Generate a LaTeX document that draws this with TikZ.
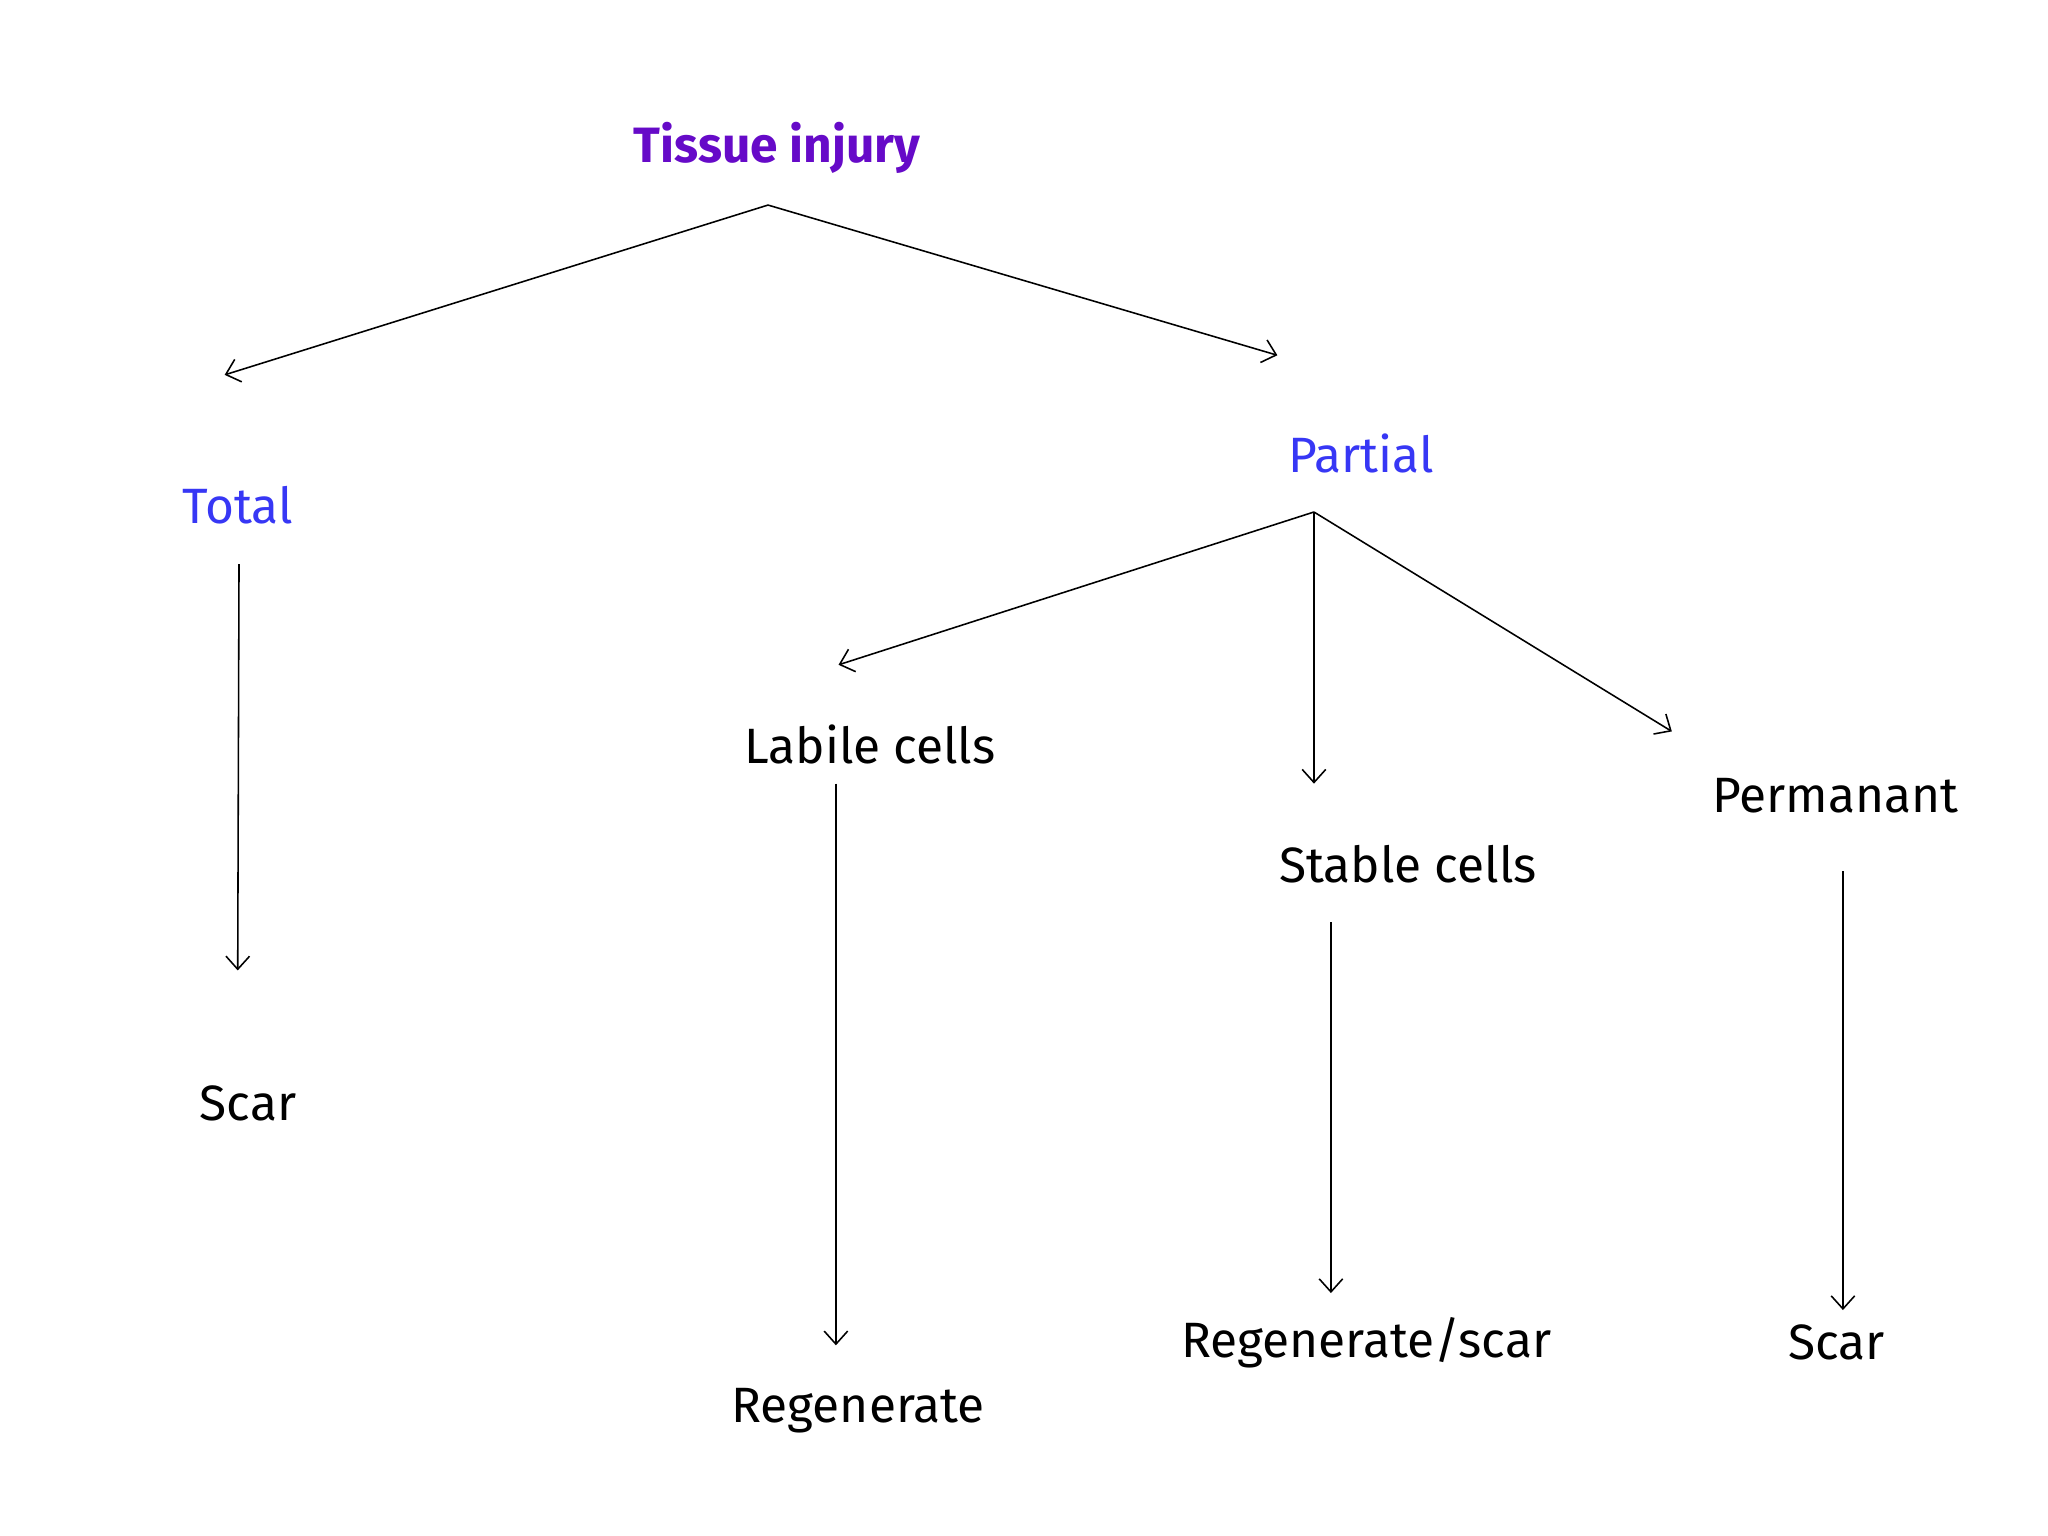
\documentclass[tikz,border=0pt]{standalone}
\usepackage{fontspec}
\setmainfont{Fira Sans}
\usetikzlibrary{arrows.meta}
\definecolor{purp}{RGB}{102,10,200}
\definecolor{blu}{RGB}{55,55,245}
\begin{document}
\begin{tikzpicture}[x=0.5pt,y=-0.5pt,
 lbl/.style={font=\fontsize{19}{22}\selectfont},
 arr/.style={-{Straight Barb[length=5pt,width=9pt]},line width=0.6pt}]
\useasboundingbox (0,0) rectangle (1568,1176);
\fill[white] (0,0) rectangle (1568,1176);
\node[lbl,text=purp,font=\bfseries\fontsize{19}{22}\selectfont] (ti) at (595,113) {Tissue injury};
\node[lbl,text=blu] (tot) at (182,387) {Total};
\node[lbl,text=blu] (par) at (1042,347) {Partial};
\node[lbl] (sc1) at (190,845) {Scar};
\node[lbl] (lab) at (666,570) {Labile cells};
\node[lbl] (sta) at (1078,662) {Stable cells};
\node[lbl] (per) at (1405,609) {Permanant};
\node[lbl] (reg) at (657,1080) {Regenerate};
\node[lbl] (rs) at (1046,1028) {Regenerate/scar};
\node[lbl] (sc2) at (1406,1028) {Scar};
\coordinate (a0) at (588,157); \coordinate (a1) at (172,287); \coordinate (a2) at (978,272);
\coordinate (p0) at (1006,392); \coordinate (p1) at (642,509); \coordinate (p2) at (1006,600); \coordinate (p3) at (1280,560);
\coordinate (t0) at (183,432); \coordinate (t1) at (182,743);
\coordinate (l0) at (640,600); \coordinate (l1) at (640,1030);
\coordinate (s0) at (1019,706); \coordinate (s1) at (1019,990);
\coordinate (m0) at (1411,667); \coordinate (m1) at (1411,1003);
\draw[arr] (a0) -- (a1); \draw[arr] (a0) -- (a2);
\draw[arr] (p0) -- (p1); \draw[arr] (p0) -- (p2); \draw[arr] (p0) -- (p3);
\draw[arr] (t0) -- (t1); \draw[arr] (l0) -- (l1);
\draw[arr] (s0) -- (s1); \draw[arr] (m0) -- (m1);
\end{tikzpicture}
\end{document}
